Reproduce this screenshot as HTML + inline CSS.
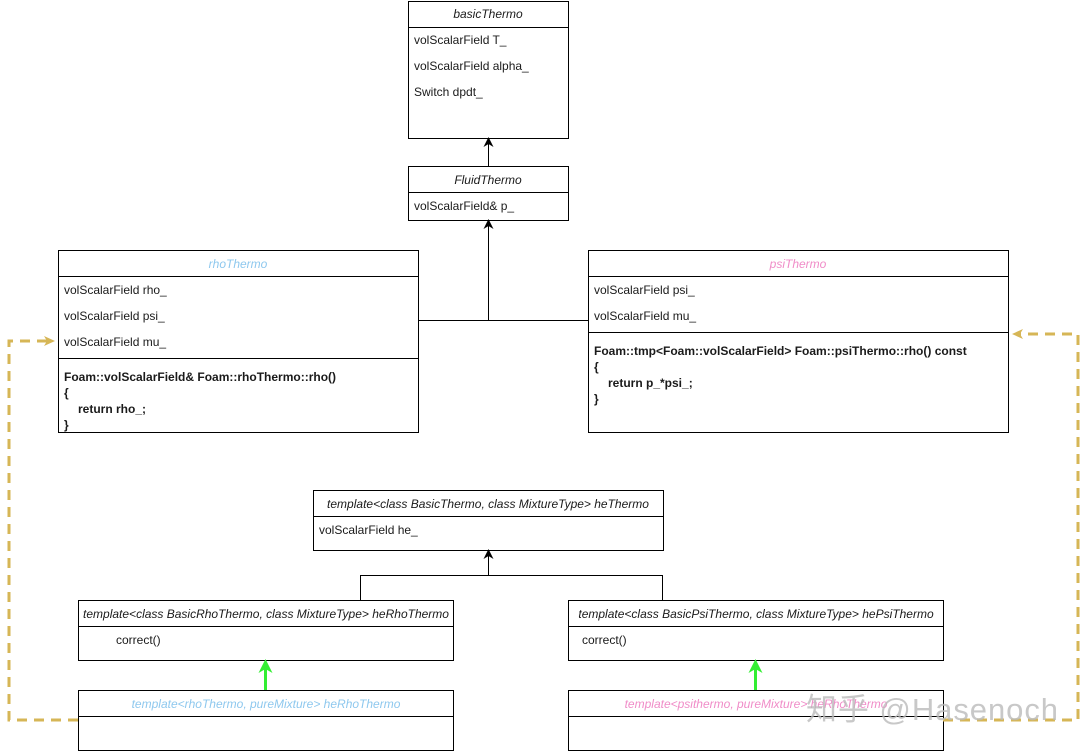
<!DOCTYPE html>
<html><head><style>
html,body{margin:0;padding:0;background:#fff;}
svg{display:block;}
text{font-family:"Liberation Sans",Arial,sans-serif;font-size:12px;fill:#1a1a1a;}
.i{font-style:italic;}
.b{font-weight:bold;}
</style></head><body>
<svg width="1089" height="752" viewBox="0 0 1089 752" xmlns="http://www.w3.org/2000/svg">
<defs>
<marker id="a" markerWidth="10" markerHeight="10" refX="5" refY="5" orient="auto" markerUnits="userSpaceOnUse"><path d="M0,0 L10,5 L0,10 L3,5 z" fill="#000"/></marker>
<marker id="g" markerWidth="14" markerHeight="14" refX="7" refY="7" orient="auto" markerUnits="userSpaceOnUse"><path d="M0,0 L14,7 L0,14 L4,7 z" fill="#33ee33"/></marker>
<marker id="y" markerWidth="12" markerHeight="12" refX="6" refY="6" orient="auto" markerUnits="userSpaceOnUse"><path d="M0,1 L11,6 L0,11 L3,6 z" fill="#d6b656"/></marker>
</defs>
<g fill="#fff" stroke="#000" stroke-width="1">
<rect x="408.5" y="1.5" width="160" height="137"/><line x1="408" y1="27.5" x2="569" y2="27.5"/>
<rect x="408.5" y="166.5" width="160" height="54"/><line x1="408" y1="192.5" x2="569" y2="192.5"/>
<rect x="58.5" y="250.5" width="360" height="182"/><line x1="58" y1="276.5" x2="419" y2="276.5"/><line x1="58" y1="358.5" x2="419" y2="358.5"/>
<rect x="588.5" y="250.5" width="420" height="182"/><line x1="588" y1="276.5" x2="1009" y2="276.5"/><line x1="588" y1="332.5" x2="1009" y2="332.5"/>
<rect x="313.5" y="490.5" width="350" height="60"/><line x1="313" y1="516.5" x2="664" y2="516.5"/>
<rect x="78.5" y="600.5" width="375" height="60"/><line x1="78" y1="626.5" x2="454" y2="626.5"/>
<rect x="568.5" y="600.5" width="375" height="60"/><line x1="568" y1="626.5" x2="944" y2="626.5"/>
<rect x="78.5" y="690.5" width="375" height="60"/><line x1="78" y1="716.5" x2="454" y2="716.5"/>
<rect x="568.5" y="690.5" width="375" height="60"/><line x1="568" y1="716.5" x2="944" y2="716.5"/>
</g>
<g stroke="#000" fill="none">
<line x1="488.5" y1="166" x2="488.5" y2="142" marker-end="url(#a)"/>
<polyline points="418,320.5 588,320.5"/>
<line x1="488.5" y1="320" x2="488.5" y2="224" marker-end="url(#a)"/>
<polyline points="360.5,600 360.5,575.5 662.5,575.5 662.5,600"/>
<line x1="488.5" y1="575" x2="488.5" y2="554" marker-end="url(#a)"/>
</g>
<g stroke="#33ee33" stroke-width="3">
<line x1="265.5" y1="690" x2="265.5" y2="666" marker-end="url(#g)"/>
<line x1="755.5" y1="690" x2="755.5" y2="666" marker-end="url(#g)"/>
</g>
<g stroke="#d6b656" stroke-width="3" fill="none" stroke-dasharray="10,7">
<polyline points="78,720 9,720 9,341 50,341" marker-end="url(#y)"/>
<polyline points="943,720 1078,720 1078,334 1017,334" marker-end="url(#y)"/>
</g>
<text class="i" x="488" y="18" text-anchor="middle">basicThermo</text>
<text x="414" y="44">volScalarField T_</text>
<text x="414" y="70">volScalarField alpha_</text>
<text x="414" y="96">Switch dpdt_</text>
<text class="i" x="488" y="184" text-anchor="middle">FluidThermo</text>
<text x="414" y="210">volScalarField&amp; p_</text>
<text class="i" x="238" y="268" text-anchor="middle" style="fill:#8ec8ee">rhoThermo</text>
<text x="64" y="294">volScalarField rho_</text>
<text x="64" y="320">volScalarField psi_</text>
<text x="64" y="346">volScalarField mu_</text>
<text class="b" x="64" y="381">Foam::volScalarField&amp; Foam::rhoThermo::rho()</text>
<text class="b" x="64" y="397">{</text>
<text class="b" x="78" y="413">return rho_;</text>
<text class="b" x="64" y="429">}</text>
<text class="i" x="798" y="268" text-anchor="middle" style="fill:#f08cc8">psiThermo</text>
<text x="594" y="294">volScalarField psi_</text>
<text x="594" y="320">volScalarField mu_</text>
<text class="b" x="594" y="355">Foam::tmp&lt;Foam::volScalarField&gt; Foam::psiThermo::rho() const</text>
<text class="b" x="594" y="371">{</text>
<text class="b" x="608" y="387">return p_*psi_;</text>
<text class="b" x="594" y="403">}</text>
<text class="i" x="488" y="508" text-anchor="middle">template&lt;class BasicThermo, class MixtureType&gt; heThermo</text>
<text x="319" y="534">volScalarField he_</text>
<text class="i" x="266" y="618" text-anchor="middle">template&lt;class BasicRhoThermo, class MixtureType&gt; heRhoThermo</text>
<text x="116" y="644">correct()</text>
<text class="i" x="756" y="618" text-anchor="middle">template&lt;class BasicPsiThermo, class MixtureType&gt; hePsiThermo</text>
<text x="582" y="644">correct()</text>
<text class="i" x="266" y="708" text-anchor="middle" style="fill:#8ec8ee">template&lt;rhoThermo, pureMixture&gt; heRhoThermo</text>
<text class="i" x="756" y="708" text-anchor="middle" style="fill:#f08cc8">template&lt;psithermo, pureMixture&gt; heRhoThermo</text>
<text x="806" y="720" style="font-size:31px;fill:#bbb;opacity:0.8;font-family:'Liberation Sans','Noto Sans CJK SC',sans-serif" textLength="252">知乎 @Hasenoch</text>
</svg>
</body></html>
